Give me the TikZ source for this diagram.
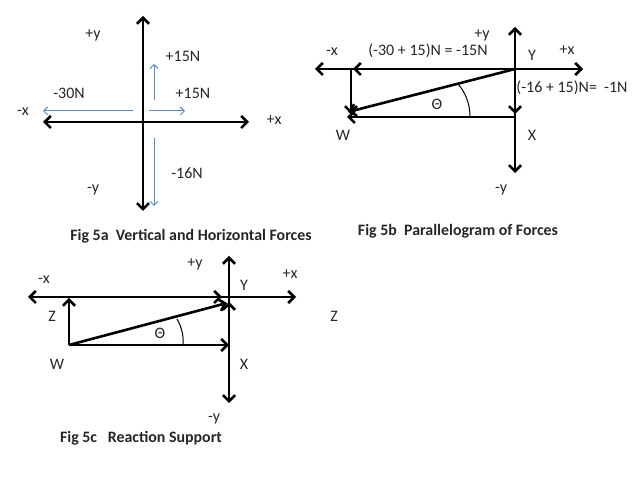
\documentclass[tikz,border=0pt]{standalone}
\usepackage{fontspec}
\setmainfont{Carlito}
\usetikzlibrary{arrows.meta}
\definecolor{steel}{HTML}{5B8BC0}
\tikzset{
  axis/.style={line width=2.6pt, {Straight Barb[length=6pt,width=12pt]}-{Straight Barb[length=6pt,width=12pt]}},
  force/.style={line width=2.6pt, -{Straight Barb[length=6pt,width=12pt]}},
  comp/.style={draw=steel, line width=1pt, -{Straight Barb[length=4pt,width=8pt]}},
  lab/.style={font=\fontsize{16}{18}\selectfont, inner sep=0pt, text=black!85},
  caption/.style={font=\fontsize{15.9}{18}\selectfont\bfseries, inner sep=0pt, text=black!85}
}
\begin{document}
\begin{tikzpicture}[x=1pt, y=-1pt]
  \useasboundingbox (0, 0) rectangle (638, 478);

  %% Fig 5a
  \coordinate (aT) at (143, 16);
  \coordinate (aB) at (143, 211);
  \coordinate (aL) at (43, 122);
  \coordinate (aR) at (249, 122);
  \draw[axis] (aT) -- (aB);
  \draw[axis] (aL) -- (aR);
  \coordinate (upS) at (154, 100);
  \coordinate (upE) at (154, 64);
  \coordinate (rtS) at (149, 111);
  \coordinate (rtE) at (185, 111);
  \coordinate (ltS) at (133, 111);
  \coordinate (ltE) at (43, 111);
  \coordinate (dnS) at (154, 138);
  \coordinate (dnE) at (154, 206);
  \draw[comp] (upS) -- (upE);
  \draw[comp] (rtS) -- (rtE);
  \draw[comp] (ltS) -- (ltE);
  \draw[comp] (dnS) -- (dnE);
  \node[lab] (apy) at (93, 35.5) {+y};
  \node[lab] (aup) at (183, 56.5) {+15N};
  \node[lab] (alf) at (69, 93.5) {-30N};
  \node[lab] (art) at (193, 93.5) {+15N};
  \node[lab] (amx) at (23, 111.5) {-x};
  \node[lab] (apx) at (274, 120.5) {+x};
  \node[lab] (adn) at (187, 173.5) {-16N};
  \node[lab] (amy) at (93, 189.5) {-y};
  \node[caption] (acap) at (191, 236.5) {Fig 5a\ \ Vertical and Horizontal Forces};

  %% Fig 5b
  \coordinate (bT) at (515, 27);
  \coordinate (bB) at (515, 173);
  \coordinate (bL) at (315, 69);
  \coordinate (bR) at (583, 69);
  \coordinate (bY) at (515, 69);
  \coordinate (bX) at (515, 117);
  \coordinate (bZ) at (351, 69);
  \coordinate (bW) at (348, 112);
  \draw[axis] (bT) -- (bB);
  \draw[axis] (bL) -- (bR);
  \draw[force] (bY) -- (353, 69);
  \draw[force] (bY) -- (515, 114);
  \draw[force] (bZ) -- (351, 114);
  \draw[force] (bY) -- (bW);
  \draw[force] (bX) -- (347, 117);
  \draw[line width=1pt] (470, 117) .. controls (470, 103) and (465, 92) .. (458, 84);
  \node[lab] (bpy) at (482, 35.5) {+y};
  \node[lab] (bmx) at (332, 51.5) {-x};
  \node[lab] (btop) at (428, 50.5) {(-30 + 15)N = -15N};
  \node[lab] (byy) at (532, 55.5) {Y};
  \node[lab] (bpx) at (567, 50.5) {+x};
  \node[lab] (bside) at (572, 87.5) {(-16 + 15)N=\ \ -1N};
  \node[lab] (bth) at (437, 104.5) {Θ};
  \node[lab] (bww) at (343, 135.5) {W};
  \node[lab] (bxx) at (532, 135.5) {X};
  \node[lab] (bmy) at (501, 189.5) {-y};
  \node[caption] (bcap) at (458, 231.5) {Fig 5b\ \ Parallelogram of Forces};

  %% Fig 5c
  \coordinate (cT) at (229, 256);
  \coordinate (cB) at (229, 403);
  \coordinate (cL) at (28, 297);
  \coordinate (cR) at (296, 297);
  \coordinate (cZ) at (69, 297);
  \coordinate (cW) at (69, 345);
  \coordinate (cX) at (229, 345);
  \coordinate (cY) at (227, 303);
  \draw[axis] (cT) -- (cB);
  \draw[axis] (cL) -- (cR);
  \draw[force] (cZ) -- (222, 297);
  \draw[force] (cW) -- (69, 298);
  \draw[force] (cW) -- (cY);
  \draw[force] (cW) -- (cX);
  \draw[force] (cX) -- (229, 302);
  \draw[line width=1pt] (183, 345) .. controls (184, 335) and (181, 326) .. (177, 319);
  \node[lab] (cpy) at (195, 264.5) {+y};
  \node[lab] (cmx) at (44, 279.5) {-x};
  \node[lab] (cyy) at (244, 285.5) {Y};
  \node[lab] (cpx) at (290, 274.5) {+x};
  \node[lab] (czz) at (52, 316.5) {Z};
  \node[lab] (czr) at (334, 316.5) {Z};
  \node[lab] (cth) at (160, 333.5) {Θ};
  \node[lab] (cww) at (57, 364.5) {W};
  \node[lab] (cxx) at (244, 364.5) {X};
  \node[lab] (cmy) at (214, 418.5) {-y};
  \node[caption] (ccap) at (141, 438.5) {Fig 5c\ \ \ Reaction Support};
\end{tikzpicture}
\end{document}
